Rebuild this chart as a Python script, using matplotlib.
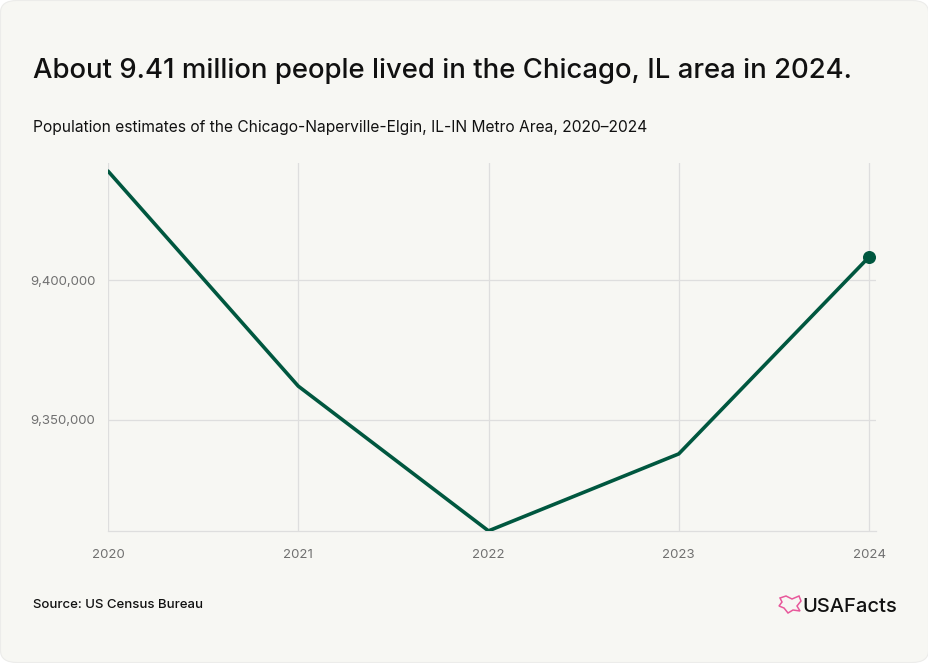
import matplotlib
matplotlib.use("Agg")
import matplotlib.pyplot as plt
from matplotlib.patches import FancyBboxPatch, Polygon
from matplotlib.ticker import FuncFormatter

years = [2020, 2021, 2022, 2023, 2024]
population = [9438900, 9362100, 9310400, 9337900, 9408200]
yticks = [9350000, 9400000]
title = "About 9.41 million people lived in the Chicago, IL area in 2024."
subtitle = "Population estimates of the Chicago-Naperville-Elgin, IL-IN Metro Area, 2020\u20132024"
source = "Source: US Census Bureau"

W, H = 929, 663
BG = "#f7f7f3"
LINE = "#00573f"
GRID = "#dedede"

plt.rcParams['font.family'] = ['Inter', 'DejaVu Sans']

fig = plt.figure(figsize=(W / 100, H / 100), dpi=100)
fig.patch.set_facecolor("white")
card = FancyBboxPatch((0.5 / W, 0.5 / H), 1 - 1.0 / W, 1 - 1.0 / H,
                      boxstyle="round,pad=0,rounding_size=0.018",
                      transform=fig.transFigure, facecolor=BG,
                      edgecolor="#ececea", linewidth=0.8, zorder=-10)
fig.patches.append(card)

left, right, top, bottom = 108, 876, 163, 531
ax = fig.add_axes([left / W, 1 - bottom / H, (right - left) / W, (bottom - top) / H])
ax.set_facecolor(BG)

ax.plot(years, population, color=LINE, linewidth=2.6, solid_capstyle="round",
        solid_joinstyle="miter", zorder=3)
ax.scatter([years[-1]], [population[-1]], s=70, color=LINE, zorder=4)

ax.set_xlim(2020, 2024 + 4 * 7 / 761)
ax.set_ylim(9310357, 9441786)
ax.set_xticks(years)
ax.set_yticks(yticks)
ax.yaxis.set_major_formatter(FuncFormatter(lambda v, p: f"{int(v):,}"))
ax.grid(True, color=GRID, linewidth=0.9)
ax.set_axisbelow(True)
for s in ["top", "right", "left"]:
    ax.spines[s].set_visible(False)
ax.spines["bottom"].set_color(GRID)
ax.spines["bottom"].set_linewidth(0.9)
ax.tick_params(axis="both", length=0, labelsize=9.5, labelcolor="#707070")
ax.tick_params(axis="x", pad=13)
ax.tick_params(axis="y", pad=9)

fig.text(33 / W, 1 - 78 / H, title, fontsize=19.8, fontweight="medium",
         color="#111111", va="baseline", ha="left")
fig.text(33 / W, 1 - 132 / H, subtitle, fontsize=11.2, color="#111111",
         va="baseline", ha="left")
fig.text(33 / W, 1 - 608 / H, source, fontsize=9.5, fontweight="medium",
         color="#111111", va="baseline", ha="left")
fig.text(897 / W, 1 - 612 / H, "USAFacts", fontsize=14.5, fontweight="medium",
         color="#111111", va="baseline", ha="right")

# small pink logo mark
mark = [(780, 598), (786, 596), (792, 599), (799, 596), (801, 601), (797, 606),
        (800, 611), (793, 610), (788, 613), (784, 608), (779, 606), (782, 602)]
fig.patches.append(Polygon([(x / W, 1 - y / H) for x, y in mark], closed=True,
                           transform=fig.transFigure, facecolor="none",
                           edgecolor="#e8589b", linewidth=1.1))

fig.savefig("out.png", dpi=100, facecolor=fig.get_facecolor())
